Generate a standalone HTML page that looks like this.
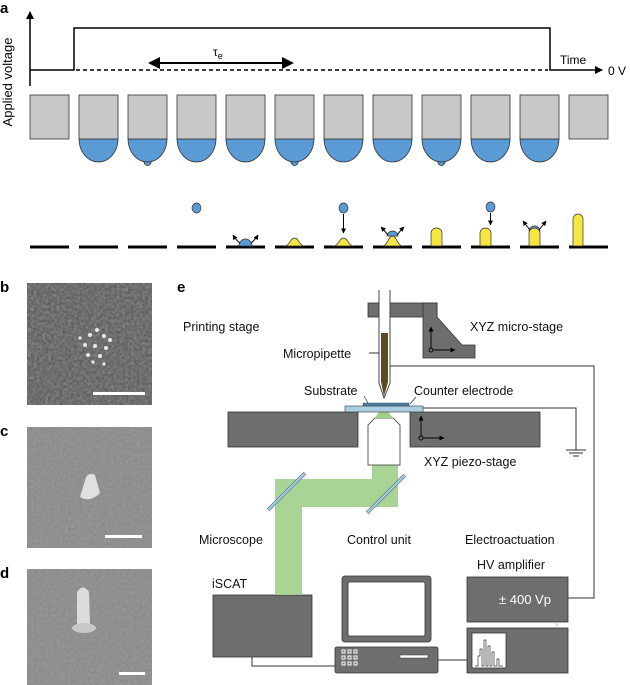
<!DOCTYPE html>
<html><head><meta charset="utf-8"><style>
body{margin:0;background:#fff}
svg{display:block;font-family:"Liberation Sans",Arial,sans-serif}
</style></head><body>
<svg width="630" height="685" viewBox="0 0 630 685" xmlns="http://www.w3.org/2000/svg">
<defs>
<marker id="ah" markerWidth="8" markerHeight="8" refX="7" refY="4" orient="auto" markerUnits="userSpaceOnUse"><path d="M0,0 L8,4 L0,8z" fill="#000"/></marker>
<marker id="ahs" markerWidth="5" markerHeight="5" refX="4.5" refY="2.5" orient="auto" markerUnits="userSpaceOnUse"><path d="M0,0 L5,2.5 L0,5z" fill="#000"/></marker>
<filter id="noise" x="0" y="0" width="1" height="1"><feTurbulence type="fractalNoise" baseFrequency="0.35" numOctaves="2" seed="3"/><feColorMatrix type="saturate" values="0"/><feComponentTransfer><feFuncA type="linear" slope="0.5"/></feComponentTransfer></filter>
<g id="col"><path d="M0,44 L39,44 A19.5,23 0 0 1 0,44z" fill="#5b9bd5" stroke="#333" stroke-width="0.8"/><rect x="0" y="0" width="39" height="44" fill="#c8c8c8" stroke="#333" stroke-width="0.8"/></g>
<circle id="drip" cx="19.5" cy="67" r="3.5" fill="#5b9bd5" stroke="#333" stroke-width="0.8"/>
</defs>
<rect x="27" y="283" width="125" height="122" fill="#555"/>
<rect x="27" y="283" width="125" height="122" filter="url(#noise)"/>
<g fill="#e8e8e8"><circle cx="90" cy="335" r="2"/><circle cx="97" cy="330" r="2"/><circle cx="104" cy="336" r="2"/><circle cx="85" cy="345" r="2"/><circle cx="95" cy="346" r="2"/><circle cx="106" cy="348" r="2"/><circle cx="88" cy="355" r="2"/><circle cx="100" cy="356" r="2"/><circle cx="110" cy="340" r="2"/><circle cx="80" cy="338" r="1.6"/><circle cx="93" cy="362" r="1.6"/><circle cx="104" cy="364" r="1.6"/></g>
<rect x="93" y="392" width="52" height="3" fill="#fff"/>
<rect x="27" y="427" width="125" height="121" fill="#8a8a8a"/>
<rect x="27" y="427" width="125" height="121" filter="url(#noise)" opacity="0.5"/>
<path d="M80,497 L86,477 Q90,472 95,475 L100,493 Q90,503 80,497z" fill="#e0e0e0"/>
<rect x="105" y="535" width="37" height="3" fill="#fff"/>
<rect x="27" y="569" width="125" height="116" fill="#8a8a8a"/>
<rect x="27" y="569" width="125" height="116" filter="url(#noise)" opacity="0.5"/>
<path d="M77,625 L77,592 Q83,583 89,592 L90,625 Q84,630 77,625z" fill="#dcdcdc"/>
<ellipse cx="84" cy="628" rx="12" ry="5" fill="#c8c8c8"/>
<rect x="119" y="672" width="26" height="3" fill="#fff"/>
<g font-weight="bold" font-size="15">
<text x="0" y="13">a</text><text x="0" y="292">b</text><text x="0" y="436">c</text><text x="0" y="578">d</text><text x="177" y="292">e</text>
</g>
<line x1="30" y1="86" x2="30" y2="12" stroke="#000" stroke-width="1.5" marker-end="url(#ah)"/>
<text transform="translate(12,82) rotate(-90)" font-size="13" text-anchor="middle">Applied voltage</text>
<polyline points="30,70 74,70 74,28 550,28 550,70 602,70" fill="none" stroke="#000" stroke-width="1.5" marker-end="url(#ah)"/>
<line x1="76" y1="70" x2="548" y2="70" stroke="#000" stroke-width="1.5" stroke-dasharray="4,3"/>
<line x1="150" y1="63" x2="292" y2="63" stroke="#000" stroke-width="2"/>
<path d="M148,63 L160,57 L160,69z M294,63 L282,57 L282,69z" fill="#000"/>
<text x="213" y="56" font-size="12">τ<tspan font-size="9" dy="3">e</tspan></text>
<text x="560" y="64" font-size="12">Time</text>
<text x="608" y="75" font-size="12">0 V</text>
<g stroke="#333" stroke-width="0.8">
<rect x="30" y="95" width="39" height="44" fill="#c8c8c8"/>
<rect x="569" y="95" width="39" height="44" fill="#c8c8c8"/>
</g>
<use href="#drip" x="128" y="95"/><use href="#drip" x="275" y="95"/><use href="#drip" x="422" y="95"/>
<use href="#col" x="79" y="95"/><use href="#col" x="128" y="95"/><use href="#col" x="177" y="95"/><use href="#col" x="226" y="95"/><use href="#col" x="275" y="95"/><use href="#col" x="324" y="95"/><use href="#col" x="373" y="95"/><use href="#col" x="422" y="95"/><use href="#col" x="471" y="95"/><use href="#col" x="520" y="95"/>
<g stroke="#000" stroke-width="3">
<line x1="30" y1="247" x2="69" y2="247"/><line x1="79" y1="247" x2="118" y2="247"/><line x1="128" y1="247" x2="167" y2="247"/><line x1="177" y1="247" x2="216" y2="247"/><line x1="226" y1="247" x2="265" y2="247"/><line x1="275" y1="247" x2="314" y2="247"/><line x1="324" y1="247" x2="363" y2="247"/><line x1="373" y1="247" x2="412" y2="247"/><line x1="422" y1="247" x2="461" y2="247"/><line x1="471" y1="247" x2="510" y2="247"/><line x1="520" y1="247" x2="559" y2="247"/><line x1="569" y1="247" x2="608" y2="247"/>
</g>
<g stroke="#333" stroke-width="0.7">
<ellipse cx="196.5" cy="208" rx="4.5" ry="5" fill="#5b9bd5"/>
<path d="M239,246 A6.5,7 0 0 1 252,246z" fill="#5b9bd5"/>
<path d="M284,246 C290,246 290,238 294.5,238 C299,238 299,246 305,246z" fill="#f5e642"/>
<ellipse cx="343.5" cy="208" rx="4.5" ry="5" fill="#5b9bd5"/>
<path d="M333,246 C339,246 339,238 343.5,238 C348,238 348,246 354,246z" fill="#f5e642"/>
<path d="M387,236 A5.5,5 0 0 1 398,236z" fill="#5b9bd5"/>
<path d="M382,246 C388,246 388,236 392.5,236 C397,236 397,246 403,246z" fill="#f5e642"/>
<path d="M431,246 L431,233 A5.5,5 0 0 1 442,233 L442,246z" fill="#f5e642"/>
<ellipse cx="490.5" cy="207" rx="4.5" ry="5" fill="#5b9bd5"/>
<path d="M480,246 L480,233 A5.5,5 0 0 1 491,233 L491,246z" fill="#f5e642"/>
<path d="M529,231 A5.5,5 0 0 1 540,231z" fill="#5b9bd5"/>
<path d="M529,246 L529,233 A5.5,5 0 0 1 540,233 L540,246z" fill="#f5e642"/>
<path d="M573,246 L573,219 A5,5 0 0 1 583,219 L583,246z" fill="#f5e642"/>
</g>
<g fill="none" stroke="#000" stroke-width="1">
<line x1="343.5" y1="214" x2="343.5" y2="233" marker-end="url(#ahs)"/>
<line x1="490.5" y1="213" x2="490.5" y2="225" marker-end="url(#ahs)"/>
<path d="M240,243 Q236,240 233,235" marker-end="url(#ahs)"/><path d="M251,243 Q255,240 258,235" marker-end="url(#ahs)"/>
<path d="M388,235 Q384,230 381,227" marker-end="url(#ahs)"/><path d="M397,235 Q401,230 404,227" marker-end="url(#ahs)"/>
<path d="M530,230 Q526,225 523,221" marker-end="url(#ahs)"/><path d="M539,230 Q543,225 546,221" marker-end="url(#ahs)"/>
</g>
<g font-size="12.5" fill="#111">
<text x="183" y="331">Printing stage</text>
<text x="470" y="331">XYZ micro-stage</text>
<text x="283" y="358">Micropipette</text>
<text x="304" y="395">Substrate</text>
<text x="414" y="395">Counter electrode</text>
<text x="424" y="466">XYZ piezo-stage</text>
<text x="199" y="544">Microscope</text>
<text x="347" y="544">Control unit</text>
<text x="465" y="544">Electroactuation</text>
<text x="477" y="569">HV amplifier</text>
<text x="212" y="588">iSCAT</text>
</g>
<line x1="369" y1="353" x2="379" y2="353" stroke="#000" stroke-width="0.8"/>
<g fill="#6e6e6e" stroke="#333" stroke-width="0.8">
<rect x="368" y="303" width="69" height="14"/>
<path d="M423,303 L437,303 L437,317 L462,345 L475,345 L475,358 L423,358z"/>
<rect x="228" y="412" width="130" height="35"/>
<rect x="410" y="412" width="130" height="35"/>
<rect x="213" y="595" width="99" height="62"/>
<rect x="342" y="576" width="89" height="66" rx="3"/>
<rect x="335" y="647" width="103" height="26" rx="2"/>
<rect x="467" y="577" width="101" height="45"/>
<rect x="467" y="628" width="101" height="45"/>
</g>
<rect x="348" y="582" width="77" height="54" rx="2" fill="#fff" stroke="#333" stroke-width="0.8"/>
<rect x="472" y="633" width="34" height="35" fill="#fff" stroke="#333" stroke-width="0.8"/>
<polyline points="475,666 478,666 478,656 480,656 480,649 482,649 482,666 484,666 484,640 486,640 486,666 488,666 488,646 490,646 490,666 492,666 492,652 494,652 494,666 497,666 497,659 499,659 499,666 503,666" fill="none" stroke="#333" stroke-width="0.7"/>
<g fill="none" stroke="#fff" stroke-width="1"><rect x="342" y="650" width="3" height="3"/><rect x="348" y="650" width="3" height="3"/><rect x="354" y="650" width="3" height="3"/><rect x="342" y="656" width="3" height="3"/><rect x="348" y="656" width="3" height="3"/><rect x="354" y="656" width="3" height="3"/><rect x="342" y="662" width="3" height="3"/><rect x="348" y="662" width="3" height="3"/><rect x="354" y="662" width="3" height="3"/></g>
<rect x="400" y="655" width="28" height="3" fill="#fff" stroke="#333" stroke-width="0.5"/>
<text x="499" y="604" font-size="13" fill="#fff">± 400 Vp</text>
<g stroke="#000" stroke-width="0.9" fill="none">
<circle cx="431" cy="350" r="2"/><line x1="431" y1="348" x2="431" y2="327" marker-end="url(#ahs)"/><line x1="433" y1="350" x2="455" y2="350" marker-end="url(#ahs)"/>
<circle cx="421" cy="438" r="2"/><line x1="421" y1="436" x2="421" y2="416" marker-end="url(#ahs)"/><line x1="423" y1="438" x2="444" y2="438" marker-end="url(#ahs)"/>
</g>
<g fill="none" stroke="#333" stroke-width="1">
<polyline points="390,366 594,366 594,598 568,598"/>
<polyline points="423,408 576,408 576,450"/>
<line x1="566" y1="450" x2="586" y2="450"/><line x1="569" y1="453" x2="583" y2="453"/><line x1="573" y1="456" x2="579" y2="456"/>
<polyline points="252,657 252,666 335,666"/>
<line x1="438" y1="660" x2="467" y2="660"/>
<line x1="557" y1="622" x2="557" y2="628" stroke="#bbb"/>
</g>
<g fill="#9fd08a" opacity="0.9">
<rect x="372" y="465" width="26" height="42"/>
<rect x="302" y="479" width="96" height="28"/>
<rect x="275" y="479" width="27" height="116"/>
</g>
<line x1="268" y1="510" x2="305" y2="473" stroke="#5a7a8a" stroke-width="3.5"/>
<line x1="268" y1="510" x2="305" y2="473" stroke="#a9cfe0" stroke-width="2"/>
<line x1="367" y1="513" x2="405" y2="475" stroke="#5a7a8a" stroke-width="3.5"/>
<line x1="367" y1="513" x2="405" y2="475" stroke="#a9cfe0" stroke-width="2"/>
<path d="M368,425 L375,418 L393,418 L400,425 L400,465 L368,465z" fill="#fff" stroke="#333" stroke-width="0.8"/>
<path d="M383,405 L375,418 L393,418z" fill="#9fd08a"/>
<rect x="345" y="406" width="78" height="6" fill="#a9cfe0" stroke="#333" stroke-width="0.6"/>
<rect x="363" y="403" width="46" height="3" fill="#4a7fa8" stroke="#333" stroke-width="0.4"/>
<line x1="364" y1="396" x2="368" y2="403" stroke="#333" stroke-width="0.7"/>
<line x1="416" y1="397" x2="410" y2="404" stroke="#333" stroke-width="0.7"/>
<path d="M379,290 L379,383 L384,398 L390,383 L390,290" fill="#fff" stroke="#333" stroke-width="0.9"/>
<path d="M381,333 L388,333 L388,382 L384,396 L381,382z" fill="#5b4a22"/>
</svg>
</body></html>
